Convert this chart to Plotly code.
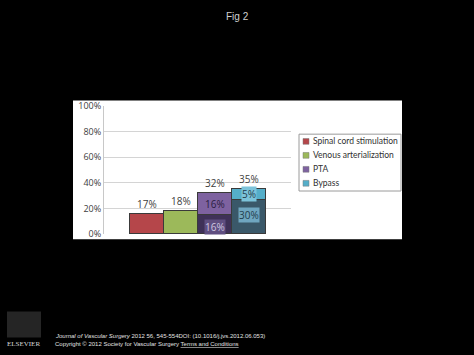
import plotly.graph_objects as go

# ---- data ----
series_names = ["Spinal cord stimulation", "Venous arterialization", "PTA", "Bypass"]
x_pos = [0, 1, 2, 3]
spinal_vals = [16]
venous_vals = [18]
pta_lower_vals = [15]
pta_upper_vals = [17]
bypass_lower_vals = [27]
bypass_upper_vals = [8]
total_labels = ["17%", "18%", "32%", "35%"]
total_vals = [16, 18, 32, 35]
inner_labels = ["16%", "16%", "5%", "30%"]
y_ticks = [0, 20, 40, 60, 80, 100]
y_tick_text = ["0%", "20%", "40%", "60%", "80%", "100%"]

W, H = 474, 355
def px(x):
    return x / W
def py(y):
    return (H - y) / H

col_red = "#B5464A"
col_green = "#9CB95A"
col_purple = "#7E62A0"
col_purple_dk = "#3F3158"
col_blue = "#55AEC9"
col_blue_dk = "#3A5869"
legend_colors = [col_red, col_green, col_purple, col_blue]
outline = dict(color="#3a3a3a", width=1)

fig = go.Figure()
fig.add_bar(x=[x_pos[0]], y=spinal_vals, name=series_names[0], marker=dict(color=col_red, line=outline), width=1)
fig.add_bar(x=[x_pos[1]], y=venous_vals, name=series_names[1], marker=dict(color=col_green, line=outline), width=1)
fig.add_bar(x=[x_pos[2]], y=pta_lower_vals, name=series_names[2], marker=dict(color=col_purple_dk, line=outline), width=1)
fig.add_bar(x=[x_pos[2]], y=pta_upper_vals, name=series_names[2], marker=dict(color=col_purple, line=outline), width=1)
fig.add_bar(x=[x_pos[3]], y=bypass_lower_vals, name=series_names[3], marker=dict(color=col_blue_dk, line=outline), width=1)
fig.add_bar(x=[x_pos[3]], y=bypass_upper_vals, name=series_names[3], marker=dict(color=col_blue, line=outline), width=1)

lab_font = "Open Sans, Arial"
annotations = []
# totals above bars
for xi, tv, tl in zip(x_pos, total_vals, total_labels):
    annotations.append(dict(x=xi, y=tv, xref="x", yref="y", text=tl, showarrow=False,
                            yshift=10, font=dict(family=lab_font, size=10, color="#404040")))
# inner labels
annotations.append(dict(x=x_pos[2], y=pta_lower_vals[0] + pta_upper_vals[0] / 2, xref="x", yref="y",
                        text=inner_labels[0], showarrow=False,
                        font=dict(family=lab_font, size=10, color="#2a2040")))
annotations.append(dict(x=x_pos[2], y=pta_lower_vals[0] / 2 - 2, xref="x", yref="y",
                        text=inner_labels[1], showarrow=False, bgcolor="#5F4E80", borderpad=0,
                        font=dict(family=lab_font, size=10, color="#cfc8e0")))
annotations.append(dict(x=x_pos[3], y=bypass_lower_vals[0] + bypass_upper_vals[0] / 2, xref="x", yref="y",
                        text=inner_labels[2], showarrow=False, bgcolor="#7CC3DA", borderpad=0,
                        font=dict(family=lab_font, size=10, color="#1f3d4d")))
annotations.append(dict(x=x_pos[3], y=bypass_lower_vals[0] / 2 + 1, xref="x", yref="y",
                        text=inner_labels[3], showarrow=False, bgcolor="#6FA6C0", borderpad=0,
                        font=dict(family=lab_font, size=10, color="#1f3d4d")))

# legend (drawn manually for exact spacing)
shapes = [
    dict(type="rect", xref="paper", yref="paper", x0=px(73), x1=px(402), y0=py(241), y1=py(97),
         fillcolor="white", line=dict(width=0), layer="below"),
    dict(type="rect", xref="paper", yref="paper", x0=px(299), x1=px(401), y0=py(191), y1=py(132),
         fillcolor="white", line=dict(color="#9a9a9a", width=1)),
    # rough stand-in for the publisher tree logo
    dict(type="rect", xref="paper", yref="paper", x0=px(7), x1=px(41), y0=py(343), y1=py(316),
         fillcolor="#4a4a4a", opacity=0.5, line=dict(width=0), layer="below"),
]
leg_y = [139.5, 154, 168.5, 183]
for name, c, ly in zip(series_names, legend_colors, leg_y):
    shapes.append(dict(type="rect", xref="paper", yref="paper", x0=px(303), x1=px(309),
                       y0=py(ly + 3), y1=py(ly - 3), fillcolor=c, line=dict(color="#7a7a7a", width=0.5)))
    annotations.append(dict(x=px(311), y=py(ly), xref="paper", yref="paper", xanchor="left", yanchor="middle",
                            text=name, showarrow=False,
                            font=dict(family="Lato, Open Sans", size=8.5, color="#303030")))

# page texts
annotations.append(dict(x=0.5, y=py(10), xref="paper", yref="paper", xanchor="center", yanchor="middle",
                        text="Fig 2", showarrow=False,
                        font=dict(family="Liberation Sans, Arial", size=10, color="#d0d0d0")))
annotations.append(dict(x=px(53), y=py(341), xref="paper", yref="paper", xanchor="left", yanchor="middle",
                        text="<i>Journal of Vascular Surgery</i> 2012 56, 545-554DOI: (10.1016/j.jvs.2012.06.053)",
                        showarrow=False, font=dict(family="Liberation Sans, Arial", size=6, color="#e0e0e0")))
annotations.append(dict(x=px(53), y=py(350), xref="paper", yref="paper", xanchor="left", yanchor="middle",
                        text="Copyright © 2012 Society for Vascular Surgery <u>Terms and Conditions</u>",
                        showarrow=False, font=dict(family="Liberation Sans, Arial", size=6, color="#e0e0e0")))
annotations.append(dict(x=px(23), y=py(350), xref="paper", yref="paper", xanchor="center", yanchor="middle",
                        text="ELSEVIER", showarrow=False,
                        font=dict(family="Liberation Serif, serif", size=7, color="#d8d8d8")))

fig.update_layout(
    width=W, height=H,
    margin=dict(l=0, r=0, t=0, b=0),
    paper_bgcolor="black", plot_bgcolor="white",
    barmode="stack", bargap=0,
    showlegend=False,
    xaxis=dict(domain=[px(104), px(291)], range=[-1.26, 4.24], showticklabels=False,
               showgrid=False, zeroline=False, showline=False, fixedrange=True),
    yaxis=dict(domain=[py(235.7), py(102.7)], range=[0, 100], tickvals=y_ticks, ticktext=y_tick_text,
               showgrid=True, gridcolor="#d4d4d4", gridwidth=1, zeroline=False,
               showline=True, linecolor="#c8c8c8", ticks="",
               tickfont=dict(family="Open Sans, Arial", size=9, color="#404040")),
    annotations=annotations, shapes=shapes,
)

fig.write_html("out.html")
